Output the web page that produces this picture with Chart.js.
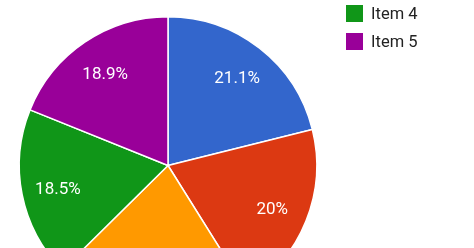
<!DOCTYPE html>
<html>
<head>
<meta charset="utf-8">
<script src="https://cdn.jsdelivr.net/npm/chart.js@4"></script>
<style>
  html, body { margin: 0; padding: 0; background: #fff; overflow: hidden; }
  body { width: 474px; height: 248px; position: relative; font-family: Roboto, sans-serif; }
  #wrap { position: absolute; left: 0; top: 0; width: 474px; height: 400px; }
  #legend { position: absolute; left: 346px; top: -85px; margin: 0; padding: 0; list-style: none; }
  #legend li { height: 28px; display: flex; align-items: center; font-size: 16.5px; color: #222; }
  #legend span { display: inline-block; width: 17px; height: 17px; margin-right: 8px; }
</style>
</head>
<body>
<div id="wrap"><canvas id="pieChart"></canvas></div>
<ul id="legend"></ul>

<script>
  const labels = ["Item 1", "Item 2", "Item 3", "Item 4", "Item 5"]
  const values = [21.1, 20, 21.5, 18.5, 18.9]
  const colors = ["#3366cc", "#dc3912", "#ff9900", "#109618", "#990099"]

  // legend (items 1-3 sit above the visible area)
  for (let i = 0; i < labels.length; i++) {
    const li = document.createElement("li")
    const box = document.createElement("span")
    box.style.background = colors[i]
    li.appendChild(box)
    li.appendChild(document.createTextNode(labels[i]))
    legend.appendChild(li)
  }

  const sliceLabels = {
    id: "sliceLabels",
    afterDatasetsDraw(chart) {
      const ctx = chart.ctx
      const meta = chart.getDatasetMeta(0)
      const total = values.reduce((a, b) => a + b, 0)
      ctx.save()
      ctx.fillStyle = "#fff"
      ctx.font = "17px Roboto"
      ctx.textAlign = "center"
      ctx.textBaseline = "middle"
      meta.data.forEach((arc, i) => {
        const p = arc.getProps(["x", "y", "startAngle", "endAngle", "outerRadius"], true)
        const mid = (p.startAngle + p.endAngle) / 2
        const r = p.outerRadius * 0.755
        const pct = Math.round(values[i] / total * 1000) / 10
        ctx.fillText(pct + "%", p.x + Math.cos(mid) * r, p.y + Math.sin(mid) * r + 2)
      })
      ctx.restore()
    }
  }

  new Chart(pieChart, {
    type: "pie",
    data: {
      labels: labels,
      datasets: [{
        data: values,
        backgroundColor: colors,
        borderColor: "#fff",
        borderWidth: 1.5
      }]
    },
    options: {
      responsive: true,
      maintainAspectRatio: false,
      animation: false,
      layout: { padding: { left: 18, top: 16, right: 156, bottom: 85 } },
      plugins: {
        legend: { display: false },
        tooltip: { enabled: false }
      }
    },
    plugins: [sliceLabels]
  })
</script>
</body>
</html>
